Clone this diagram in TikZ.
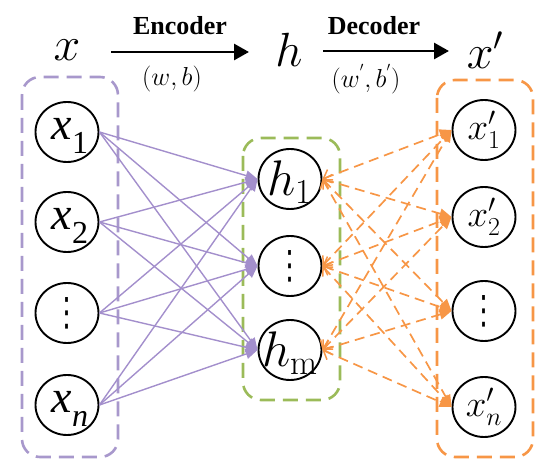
\RequirePackage{fix-cm}
\documentclass[tikz,border=0pt]{standalone}
\usepackage{fontspec}
\usepackage{graphicx}
\newfontfamily\timesf{Liberation Serif}
\newfontfamily\djv{DejaVu Sans}
\usetikzlibrary{arrows.meta,shapes.geometric}
\definecolor{pur}{RGB}{168,152,204}
\definecolor{purl}{RGB}{163,143,204}
\definecolor{grn}{RGB}{155,187,89}
\definecolor{org}{RGB}{247,150,70}
\tikzset{
  nd/.style={ellipse,draw=black,line width=1.9pt,minimum width=63pt,minimum height=60pt,inner sep=0pt},
  pbox/.style={draw=pur,line width=2.6pt,dash pattern=on 15pt off 8pt,rounded corners=18pt},
  gbox/.style={draw=grn,line width=2.6pt,dash pattern=on 15pt off 8pt,rounded corners=18pt},
  obox/.style={draw=org,line width=2.6pt,dash pattern=on 15pt off 8pt,rounded corners=18pt},
  pline/.style={draw=purl,line width=1.4pt,-{Triangle[length=12pt,width=10pt]}},
  oline/.style={draw=org,line width=1.7pt,dash pattern=on 10pt off 6pt,
     {Straight Barb[length=7pt,width=14pt,line width=1.5pt]}-{Triangle[length=12pt,width=10pt]}},
  bigarrow/.style={draw=black,line width=2.8pt,-{Triangle[length=15pt,width=16pt]}},
  hdr/.style={font=\fontsize{48}{48}\selectfont,inner sep=0pt},
  lbl/.style={font=\timesf\bfseries\fontsize{26}{26}\selectfont,inner sep=0pt},
  wbtxt/.style={font=\fontsize{26}{26}\selectfont,inner sep=0pt},
  xlab/.style={label={[yshift=-4pt,xshift=3pt]center:#1}},
  hlab/.style={label={[font=\fontsize{50}{50}\selectfont,yshift=-3pt]center:#1}},
  ylab/.style={label={[font=\fontsize{37}{37}\selectfont]center:#1}},
  dlab/.style={label={[font=\djv\fontsize{27}{27}\selectfont]center:\scalebox{1}[1.45]{⋮}}},
}
\newcommand{\xsub}[1]{{\timesf\itshape\fontsize{46}{46}\selectfont x\raisebox{-14pt}{\fontsize{32}{32}\selectfont #1}}}
\begin{document}
\begin{tikzpicture}[x=1pt,y=-1pt]
\useasboundingbox (0,0) rectangle (550,473);
% boxes
\draw[pbox] (22,77) rectangle (118,457);
\draw[gbox] (243,138) rectangle (340,400);
\draw[obox] (437,80) rectangle (533,457);
% header
\node[hdr] (hx) at (67,50) {$x$};
\node[hdr] (hh) at (289,50) {$h$};
\node[hdr] (hxp) at (485,50) {$x'$};
\coordinate (e1) at (111,52);
\coordinate (e2) at (249,52);
\coordinate (d1) at (323,51);
\coordinate (d2) at (449,51);
\draw[bigarrow] (e1) -- (e2);
\draw[bigarrow] (d1) -- (d2);
\node[lbl] (enc) at (180,26) {Encoder};
\node[wbtxt] (wb) at (172,79) {$(w,b)$};
\node[lbl] (dec) at (374,26) {Decoder};
\node[wbtxt] (wbp) at (366,79) {$(w^{'},b^{'})$};
% x nodes
\node[nd,xlab={\xsub{\upshape 1}}] (x1) at (67,132) {};
\node[nd,xlab={\xsub{\upshape 2}}] (x2) at (67,222) {};
\node[nd,dlab] (x3) at (67,313) {};
\node[nd,xlab={\xsub{n}}] (x4) at (67,405) {};
% h nodes
\node[nd,hlab={$h_{\mathrm{1}}$}] (h1) at (290,179) {};
\node[nd,dlab] (h2) at (290,266) {};
\node[nd,hlab={$h_{\mathrm{m}}$}] (h3) at (290,350) {};
% x' nodes
\node[nd,ylab={$x'_1$}] (y1) at (484,130) {};
\node[nd,ylab={$x'_2$}] (y2) at (484,217) {};
\node[nd,dlab] (y3) at (484,311) {};
\node[nd,ylab={$x'_n$}] (y4) at (484,407) {};
% connectors
\foreach \a in {x1,x2,x3,x4}{
  \foreach \b in {h1,h2,h3}{
    \draw[pline] (\a.east) -- (\b.west);
  }
}
\foreach \a in {h1,h2,h3}{
  \foreach \b in {y1,y2,y3,y4}{
    \draw[oline] (\a.east) -- (\b.west);
  }
}
\end{tikzpicture}
\end{document}
